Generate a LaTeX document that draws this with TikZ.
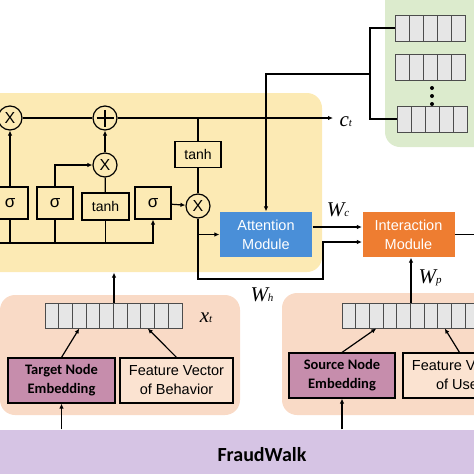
\documentclass[tikz,border=0pt]{standalone}
\usepackage{fontspec}
\setmainfont{Liberation Sans}
\newfontfamily\calibri{Carlito}
\newfontfamily\tnr{Liberation Serif}
\usepackage{tikz}
\usetikzlibrary{positioning,arrows.meta}

\definecolor{lstmbg}{HTML}{FCEAB4}
\definecolor{membg}{HTML}{DCEBCD}
\definecolor{embbg}{HTML}{F9DAC6}
\definecolor{nodebox}{HTML}{C68DAC}
\definecolor{featbox}{HTML}{FBE3D1}
\definecolor{walkbg}{HTML}{D6C4E4}
\definecolor{attblue}{HTML}{4A8FD8}
\definecolor{intorange}{HTML}{EE7D31}
\definecolor{cellgray}{HTML}{E6E6E6}

\newcommand{\mfont}{\fontsize{14.5}{19}\selectfont}
\newcommand{\lbl}[2]{{\fontsize{21}{21}\selectfont\tnr\itshape #1}{\fontsize{11}{11}\selectfont\tnr\itshape #2}}

\begin{document}
\begin{tikzpicture}[x=1pt,y=-1pt,line width=1.2pt,
  region/.style={rounded corners=15pt,inner sep=0pt,draw=none},
  gate/.style={draw,minimum width=36pt,minimum height=32pt,inner sep=0pt,font=\fontsize{17}{17}\selectfont},
  tanhbox/.style={draw,minimum width=46pt,minimum height=26pt,inner sep=0pt,font=\fontsize{14}{14}\selectfont},
  op/.style={draw,circle,minimum size=24pt,inner sep=0pt,font=\fontsize{16}{16}\selectfont},
  plus/.style={draw,circle,minimum size=24pt,inner sep=0pt,
    path picture={\draw ([xshift=-8.5pt]path picture bounding box.center) -- ([xshift=8.5pt]path picture bounding box.center);
      \draw ([yshift=-8.5pt]path picture bounding box.center) -- ([yshift=8.5pt]path picture bounding box.center);}},
  module/.style={minimum width=92pt,minimum height=45pt,inner sep=0pt,text=white,align=center,font=\mfont},
  embbox/.style={draw,fill=nodebox,minimum width=107pt,minimum height=45pt,inner sep=0pt,align=center,font=\mfont\calibri\bfseries},
  featbox/.style={draw,fill=featbox,minimum width=113pt,minimum height=45pt,inner sep=0pt,align=center,font=\mfont},
  cell/.style={draw=black!70,fill=cellgray,line width=1pt,minimum width=13.7pt,minimum height=25pt,inner sep=0pt},
  mcell/.style={draw=black!70,fill=cellgray,line width=1pt,minimum width=14pt,minimum height=26pt,inner sep=0pt},
  arr/.style={-{Latex[length=5pt,width=4.5pt]}}]
\useasboundingbox (0,0) rectangle (474,474);
\clip (0,0) rectangle (474,474);

% background regions
\node[region,fill=lstmbg,minimum width=342pt,minimum height=179pt] (lstm) at (151,182.5) {};
\node[region,fill=membg,minimum width=105pt,minimum height=167pt] (memory) at (437.5,63.5) {};
\node[region,fill=embbg,minimum width=240pt,minimum height=120pt] (tgtpart) at (120,355) {};
\node[region,fill=embbg,minimum width=208pt,minimum height=122pt] (srcpart) at (386,354) {};
\node[draw=none,fill=walkbg,minimum width=550pt,minimum height=50pt,inner sep=0pt,
  font=\fontsize{20}{20}\selectfont\calibri\bfseries] (walk) at (262,455) {FraudWalk};

% memory bank
\foreach \i in {0,...,4} {
  \node[mcell] (ma\i) at (402+14*\i,28) {};
  \node[mcell] (mb\i) at (402+14*\i,67) {};
  \node[mcell] (mc\i) at (404+14*\i,119) {};
}
\foreach \y in {88,96,104}
  \fill (432,\y) circle (2pt);

% lstm cell
\node[op] (forget) at (10,118) {X};
\node[plus] (add) at (105,118) {};
\node[op] (inmul) at (105,165) {X};
\node[op] (outmul) at (198,206) {X};
\node[gate] (sig1) at (10,203) {σ};
\node[gate] (sig2) at (55,203) {σ};
\node[tanhbox,minimum width=47pt,minimum height=27pt] (tanh1) at (105.5,206.5) {tanh};
\node[gate] (sig3) at (153,203) {σ};
\node[tanhbox] (tanh2) at (198,154.5) {tanh};
\coordinate (bus) at (-10,243);
\coordinate (ctend) at (333,118);
\node[anchor=west,inner sep=0pt] (ct) at (339,122) {\lbl{c}{t}};

\draw (forget) -- (add);
\draw[arr] (add) -- (ctend);
\draw (tanh2.north |- add) -- (tanh2.north);
\draw (tanh2) -- (outmul);
\draw[arr] (sig1) -- (forget);
\draw[arr] (sig2.north) |- (inmul);
\draw (tanh1) -- (inmul);
\draw[arr] (inmul) -- (add);
\draw[arr] (sig3) -- (outmul);
\draw[arr] (bus) -| (sig3.south);
\draw (sig1.south) -- (sig1.south |- bus);
\draw (sig2.south) -- (sig2.south |- bus);
\draw (tanh1.south) -- (tanh1.south |- bus);

% modules
\node[module,fill=attblue] (att) at (266,234.5) {Attention\\Module};
\node[module,fill=intorange] (inter) at (408.5,234.5) {Interaction\\Module};
\coordinate (hbend) at (323,279);
\coordinate (mem) at (370,74);
\draw (ma0.west) -| (mem) |- (mc0.west);
\draw[arr] (mem) -| (att.north);
\draw[arr] (outmul.south |- att.west) -- (att.west);
\draw[arr] (outmul.south) |- (hbend) |- ([yshift=-7.5pt]inter.west);
\draw[arr] ([yshift=7.5pt]att.east) -- ([yshift=7.5pt]inter.west);
\draw (inter.east) -- (480,234.5);
\node (wc) at (338,210) {\lbl{W}{c}};
\node (wh) at (262,295) {\lbl{W}{h}};
\node (wp) at (430,278) {\lbl{W}{p}};

% target side
\foreach \i in {0,...,9}
  \node[cell] (lx\i) at (51.85+13.7*\i,315.5) {};
\node (xt) at (206,318) {\lbl{x}{t}};
\node[embbox] (tgt) at (61.5,380.5) {Target Node\\Embedding};
\node[featbox] (behav) at (176.5,380.5) {Feature Vector\\of Behavior};
\draw[arr] (tgt.north) -- (lx2.south);
\draw[arr] (behav.north) -- (lx7.south);
\draw[arr] (lx4.north east) -- (lx4.north east |- lstm.south);
\draw[arr] (tgt.south |- walk.north) -- (tgt.south);

% source side
\foreach \i in {0,...,9}
  \node[cell] (rx\i) at (348.85+13.7*\i,315.5) {};
\node[embbox,minimum width=106pt] (src) at (342,375.5) {Source Node\\Embedding};
\node[featbox] (user) at (459.5,375.5) {Feature Vector\\of User};
\draw[arr] (src.north) -- (rx2.south);
\draw[arr] (user.north) -- (rx7.south);
\draw[arr] (rx4.north east) -- (rx4.north east |- inter.south);
\draw[arr] (src.south |- walk.north) -- (src.south);
\end{tikzpicture}
\end{document}
